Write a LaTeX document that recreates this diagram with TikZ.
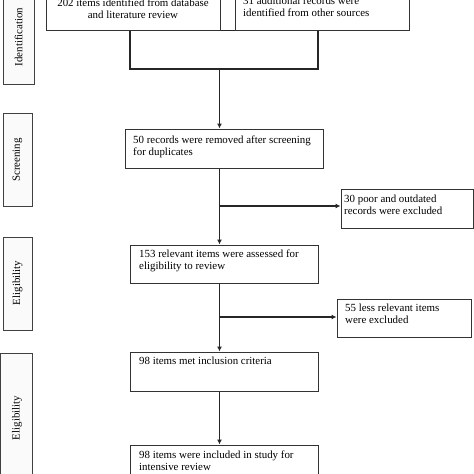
\documentclass[tikz,border=0pt]{standalone}
\usepackage{fontspec}
\setmainfont{Liberation Serif}
\usetikzlibrary{arrows.meta}
\begin{document}
\begin{tikzpicture}[x=1pt,y=-1pt,
  box/.style={draw=black!80, line width=1pt, rectangle, inner sep=0pt},
  txt/.style={inner sep=0pt, anchor=north west, align=left, font=\fontsize{10.9}{12.2}\selectfont},
  side/.style={draw=black!75, line width=1pt, rectangle, inner sep=0pt, fill=black!2},
  sidetxt/.style={rotate=90, inner sep=0pt, font=\fontsize{10.9}{12}\selectfont},
  conn/.style={draw=black!85, line width=1.1pt},
  arr/.style={conn, -{Latex[length=5pt,width=5pt]}}]
\useasboundingbox (0,0) rectangle (474,474);
\clip (0,0) rectangle (474,474);
\fill[white] (0,0) rectangle (474,474);

% side labels
\node[side, minimum width=31pt, minimum height=100pt] (sid) at (18.5,34) {};
\node[sidetxt] (sidt) at (18.5,37) {Identification};
\node[side, minimum width=29pt, minimum height=93pt] (sscr) at (17.5,159.5) {};
\node[sidetxt] (sscrt) at (17.5,160) {Screening};
\node[side, minimum width=29pt, minimum height=93pt] (sel1) at (17.5,283.5) {};
\node[sidetxt] (sel1t) at (17.5,283) {Eligibility};
\node[side, minimum width=31.5pt, minimum height=140pt] (sel2) at (16.25,423) {};
\node[sidetxt] (sel2t) at (17,418) {Eligibility};

% top boxes
\node[box, minimum width=174pt, minimum height=50pt] (a) at (133,5) {};
\node[inner sep=0pt, align=center, font=\fontsize{10.9}{12.2}\selectfont] (at) at (133,9) {202 items identified from database\\and literature review};
\node[box, minimum width=174pt, minimum height=50pt] (b) at (322,5) {};
\node[txt] (bt) at (243,-3) {31 additional records were\\identified from other sources};
\draw[conn] (a.south east) -- (b.south west);

% main boxes
\node[box, minimum width=198pt, minimum height=39pt] (s) at (224,148.5) {};
\node[txt] (st) at (133,135.5) {50 records were removed after screening\\for duplicates};
\node[box, minimum width=132pt, minimum height=39pt] (x1) at (407,208.5) {};
\node[txt] (x1t) at (344,194.5) {30 poor and outdated\\records were excluded};
\node[box, minimum width=134pt, minimum height=38pt] (x2) at (404,318) {};
\node[txt] (x2t) at (345,303.5) {55 less relevant items\\were excluded};
\node[box, minimum width=188pt, minimum height=38pt] (e) at (224,264) {};
\node[txt] (et) at (139,249.5) {153 relevant items were assessed for\\eligibility to review};
\node[box, minimum width=188pt, minimum height=39pt] (i) at (224,371.5) {};
\node[txt] (it) at (139,356.5) {98 items met inclusion criteria};
\node[box, minimum width=188pt, minimum height=50pt] (f) at (224,470) {};
\node[txt] (ft) at (139,450.5) {98 items were included in study for\\intensive review};

% connectors
\coordinate (m) at (219.5,69);
\coordinate (b1) at (219.5,206);
\coordinate (b2) at (219.5,317);
\draw[conn] (a.south -| 130,0) -- (130,69) -- (318,69) -- (b.south -| 318,0);
\draw[arr] (m) -- (m |- s.north);
\draw[arr] (s.south -| m) -- (e.north -| m);
\draw[arr] (b1) -- (b1 -| x1.west);
\draw[arr] (e.south -| m) -- (i.north -| m);
\draw[arr] (b2) -- (b2 -| x2.west);
\draw[arr] (i.south -| m) -- (f.north -| m);
\end{tikzpicture}
\end{document}
